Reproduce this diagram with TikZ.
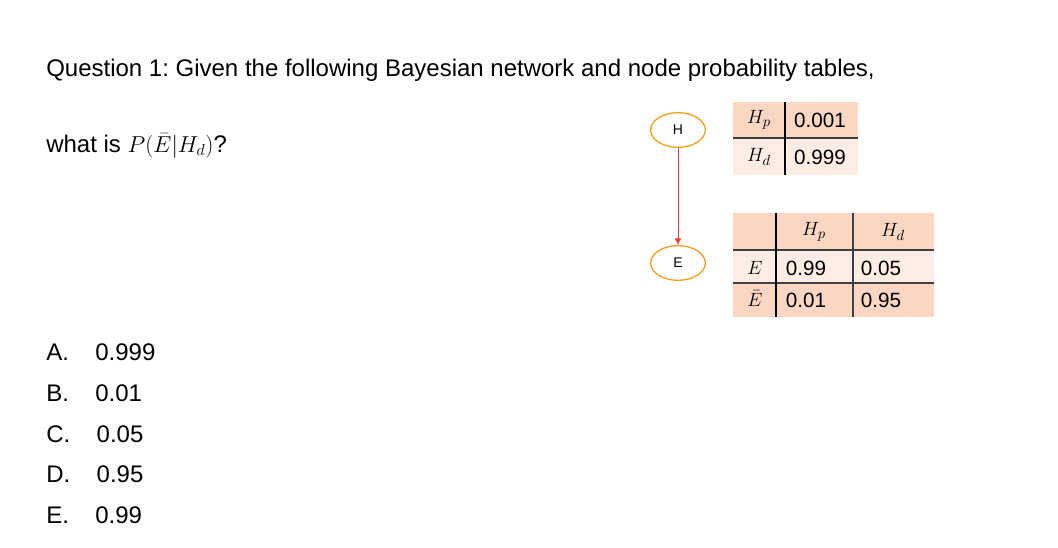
\documentclass[tikz,border=0pt]{standalone}
\usepackage{fontspec}
\setmainfont{Liberation Sans}
\usepackage{amsmath}
\usepackage{tikz}
\usetikzlibrary{arrows.meta}
\usetikzlibrary{shapes.geometric}
\definecolor{cellDark}{RGB}{251,214,194}
\definecolor{cellLight}{RGB}{253,237,229}
\definecolor{nodeEdge}{RGB}{242,160,30}
\definecolor{linkRed}{RGB}{240,60,50}
\frenchspacing
\tikzset{
  bnode/.style={draw=nodeEdge,line width=1pt,ellipse,minimum width=41pt,minimum height=26pt,inner sep=0pt,font=\fontsize{10.5}{12}\selectfont},
  txt/.style={anchor=west,inner sep=0.75pt,font=\fontsize{18}{21}\selectfont},
  cell/.style={inner sep=0.75pt,font=\fontsize{15.5}{18}\selectfont}
}
\begin{document}
\begin{tikzpicture}[x=0.75pt,y=0.75pt,yscale=-1,xscale=1]
\path[use as bounding box] (0,0) rectangle (1058,548);

% Question text
\node[txt] (q1) at (45,70) {Question 1: Given the following Bayesian network and node probability tables,};
\node[txt] (q2) at (45,146) {what is $P(\bar{E}|H_d)$?};

% Answers
\node[txt] (ansA) at (45,352) {A.\hspace{1.1em}0.999};
\node[txt] (ansB) at (45,393) {B.\hspace{1.1em}0.01};
\node[txt] (ansC) at (45,434) {C.\hspace{1.1em}0.05};
\node[txt] (ansD) at (45,474) {D.\hspace{1.1em}0.95};
\node[txt] (ansE) at (45,515) {E.\hspace{1.1em}0.99};

% Network
\node[bnode] (nH) at (678,130) {H};
\node[bnode] (nE) at (678,263) {E};
\draw[linkRed,-{Latex[length=5pt,width=5pt]}] (nH) -- (nE);

% Table for H
\fill[cellDark] (733,102) rectangle (858,138);
\fill[cellLight] (733,138) rectangle (858,175);
\draw[line width=1pt,black!75] (733,138) -- (858,138);
\draw[line width=1pt] (785,102) -- (785,175);
\node[cell] (tHp) at (759,120) {$H_p$};
\node[cell] (vHp) at (820,120) {0.001};
\node[cell] (tHd) at (759,157) {$H_d$};
\node[cell] (vHd) at (820,157) {0.999};

% Table for E given H
\fill[cellDark] (733,213) rectangle (934,250);
\fill[cellLight] (733,250) rectangle (934,283);
\fill[cellDark] (733,283) rectangle (934,317);
\draw[line width=1pt,black!75] (733,250) -- (934,250);
\draw[line width=1pt,black!75] (733,283) -- (934,283);
\draw[line width=1pt] (776,213) -- (776,317);
\draw[line width=1pt,black!75] (853,213) -- (853,317);
\node[cell] (cHp) at (814,232) {$H_p$};
\node[cell] (cHd) at (893,232) {$H_d$};
\node[cell] (rE) at (755,268) {$E$};
\node[cell] (rEbar) at (755,299) {$\bar{E}$};
\node[cell] (vEHp) at (806,268) {0.99};
\node[cell] (vEHd) at (881,268) {0.05};
\node[cell] (vNHp) at (806,300) {0.01};
\node[cell] (vNHd) at (881,300) {0.95};

\end{tikzpicture}
\end{document}
